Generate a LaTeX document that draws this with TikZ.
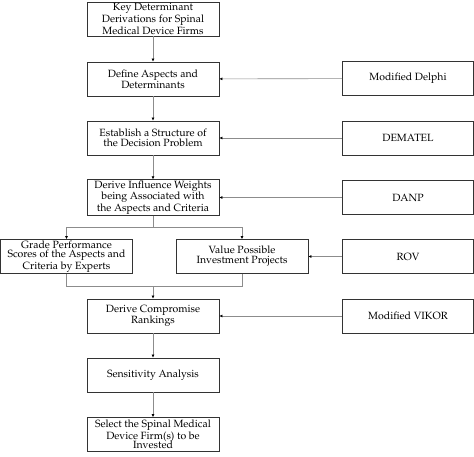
\documentclass[tikz,border=0pt]{standalone}
\usepackage[T1]{fontenc}
\usepackage{mathpazo}
\usetikzlibrary{arrows.meta}
\begin{document}
\begin{tikzpicture}[x=1pt,y=-1pt,
  box/.style={draw=black!80,line width=0.7pt,minimum width=132pt,minimum height=34pt,
    inner sep=1pt,align=center,font=\fontsize{10.5}{9.8}\selectfont},
  conn/.style={draw=black!45,line width=0.6pt},
  arr/.style={conn,-{Latex[length=3pt,width=3pt,color=black]}}]
\useasboundingbox (0,0) rectangle (474,456);
\node[box] (k) at (153,19) {Key Determinant\\Derivations for Spinal\\Medical Device Firms};
\node[box] (d) at (153,79) {Define Aspects and\\Determinants};
\node[box] (s) at (153,138) {Establish a Structure of\\the Decision Problem};
\node[box] (w) at (153,197.5) {Derive Influence Weights\\being Associated with\\the Aspects and Criteria};
\node[box] (g) at (66.5,256.5) {Grade Performance\\Scores of the Aspects and\\Criteria by Experts};
\node[box] (v) at (242,256.5) {Value Possible\\Investment Projects};
\node[box] (c) at (153,316) {Derive Compromise\\Rankings};
\node[box] (sa) at (153,375) {Sensitivity Analysis};
\node[box] (sel) at (153,434.5) {Select the Spinal Medical\\Device Firm(s) to be\\Invested};
\node[box,minimum width=131pt] (md) at (408,78.5) {Modified Delphi};
\node[box,minimum width=131pt] (dem) at (408,138) {DEMATEL};
\node[box,minimum width=131pt] (danp) at (408,197.5) {DANP};
\node[box,minimum width=131pt] (rov) at (408,256.5) {ROV};
\node[box,minimum width=131pt] (vik) at (408,316) {Modified VIKOR};
\coordinate (br) at (153,227);
\coordinate (mg) at (153,286);
\draw[arr] (k) -- (d);
\draw[arr] (d) -- (s);
\draw[arr] (s) -- (w);
\draw[conn] (w) -- (br);
\draw[arr] (br) -| (g);
\draw[arr] (br) -| (v);
\draw[conn] (g) |- (mg);
\draw[conn] (v) |- (mg);
\draw[arr] (mg) -- (c);
\draw[arr] (c) -- (sa);
\draw[arr] (sa) -- (sel);
\draw[arr] (md) -- (d);
\draw[arr] (dem) -- (s);
\draw[arr] (danp) -- (w);
\draw[arr] (rov) -- (v);
\draw[arr] (vik) -- (c);
\end{tikzpicture}
\end{document}
